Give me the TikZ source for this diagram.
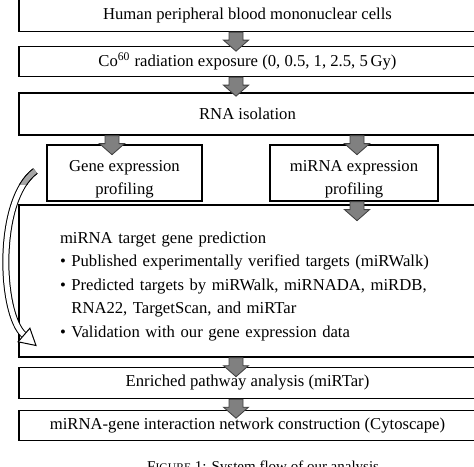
\documentclass[tikz,border=0pt]{standalone}
\usepackage{fontspec}
\setmainfont{Liberation Serif}
\usetikzlibrary{calc}

\newcommand\pxu{0.6pt}
\newcommand\topstrut[1]{\rule{0pt}{#1}}

\tikzset{
    stage/.style={draw, line width=0.8pt, inner sep=0pt, align=center,
        font=\fontsize{10}{14.1}\selectfont},
    blockarrow/.style={draw=black!75, fill=black!50, line width=0.5pt},
    loopshaft/.style={line width=0.6pt, double distance=3pt}
}

\begin{document}
\begin{tikzpicture}[x=0.6pt, y=0.6pt]
    \useasboundingbox (0,0) rectangle (474,466);
    \clip (0,0) rectangle (474,466);

    % the flow stages
    \node[stage, minimum width=457*\pxu, minimum height=33*\pxu] (hpbmc) at (247.5,451)
        {Human peripheral blood mononuclear cells};
    \node[stage, minimum width=457*\pxu, minimum height=30*\pxu] (coex) at (247.5,404.5)
        {Co\textsuperscript{60} radiation exposure (0, 0.5, 1, 2.5, 5\,Gy)};
    \node[stage, minimum width=457*\pxu, minimum height=42*\pxu] (rna) at (247.5,352)
        {RNA isolation};
    \node[stage, minimum width=155*\pxu, minimum height=56*\pxu] (gene) at (124.5,293)
        {\topstrut{14pt}Gene expression\\profiling};
    \node[stage, minimum width=168*\pxu, minimum height=56*\pxu] (mirexp) at (354,293)
        {\topstrut{14pt}miRNA expression\\profiling};
    \node[stage, align=left, minimum height=152*\pxu, text width=375*\pxu,
        inner xsep=41*\pxu] (target) at (247.5,185)
        {\topstrut{13pt}miRNA target gene prediction\\
        \textbullet\ Published experimentally verified targets (miRWalk)\\
        \textbullet\ Predicted targets by miRWalk, miRNADA, miRDB,\\
        \phantom{\textbullet\ }RNA22, TargetScan, and miRTar\\
        \textbullet\ Validation with our gene expression data};
    \node[stage, minimum width=457*\pxu, minimum height=31*\pxu] (enrich) at (247.5,83)
        {Enriched pathway analysis (miRTar)};
    \node[stage, minimum width=457*\pxu, minimum height=30*\pxu] (network) at (247.5,40.5)
        {miRNA-gene interaction network construction (Cytoscape)};
    \node[anchor=base, font=\fontsize{9}{10}\selectfont] (caption) at (265,-5)
        {F{\fontsize{7}{8}\selectfont IGURE} 1: System flow of our analysis.};

    % columns of the block arrows
    \coordinate (spine) at (236,0);
    \coordinate (lcol) at (112,0);
    \coordinate (rcol) at (357,0);

    \foreach \a/\b/\c in {hpbmc/coex/spine, coex/rna/spine, rna/gene/lcol,
        rna/mirexp/rcol, mirexp/target/rcol, target/enrich/spine, enrich/network/spine}{
        \path (\a.south -| \c) coordinate (from) (\b.north -| \c) coordinate (to);
        \draw[blockarrow] let \p1=(from), \p2=($(from)!11.4pt!(to)$) in
            (\x1-4.2pt,\y1) -- (\x1-4.2pt,\y2+6.6pt) -- (\x1-7.5pt,\y2+6.6pt)
            -- (\x2,\y2) -- (\x1+7.5pt,\y2+6.6pt) -- (\x1+4.2pt,\y2+6.6pt)
            -- (\x1+4.2pt,\y1) -- cycle;
    }

    % gene expression data goes into the validation step
    \coordinate (loopend) at (24,131);
    \draw[loopshaft, double=white] ($(gene.west)+(-11,2)$)
        .. controls (-4,266) and (0,152) .. (loopend);
    \begin{scope}
        \clip (10,281) rectangle (45,300);
        \draw[loopshaft, double=black!35] ($(gene.west)+(-11,2)$)
            .. controls (-4,266) and (0,152) .. (loopend);
    \end{scope}
    \draw[line width=0.6pt, fill=white] ($(loopend)+(5.9,6.8)$) -- ($(loopend)+(12,-10.5)$)
        -- ($(loopend)+(-5.9,-6.8)$) -- cycle;
\end{tikzpicture}
\end{document}
